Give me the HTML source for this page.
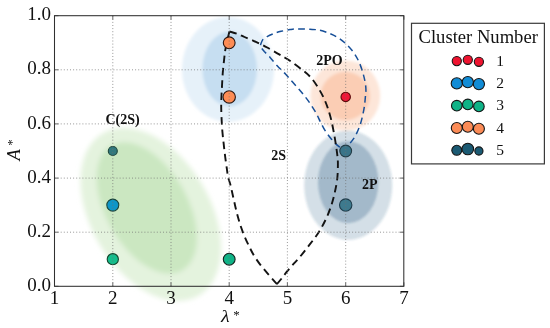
<!DOCTYPE html>
<html><head><meta charset="utf-8"><title>Cluster Number</title>
<style>html,body{margin:0;padding:0;background:#fff}svg{display:block}text{font-family:"Liberation Serif","DejaVu Serif",serif;fill:#111}</style>
</head><body>
<svg width="550" height="328" viewBox="0 0 550 328">
<defs><filter id="soft" x="-20%" y="-20%" width="140%" height="140%"><feGaussianBlur stdDeviation="1.7"/></filter><filter id="soft1" x="-20%" y="-20%" width="140%" height="140%"><feGaussianBlur stdDeviation="1.2"/></filter><filter id="soft3" x="-20%" y="-20%" width="140%" height="140%"><feGaussianBlur stdDeviation="2.7"/></filter></defs>
<rect width="550" height="328" fill="#fff"/>
<g filter="url(#soft3)">
<ellipse cx="150.8" cy="214.4" rx="94.3" ry="59.4" transform="rotate(59.2 150.8 214.4)" fill="#e4f3de"/>
<ellipse cx="146.8" cy="207.9" rx="71.8" ry="40.9" transform="rotate(60.6 146.8 207.9)" fill="#cbe7c1"/>
</g>
<g filter="url(#soft)">
<ellipse cx="228.0" cy="69.4" rx="46.0" ry="52.3" fill="#e6f1f9"/>
<ellipse cx="229.7" cy="69.0" rx="27.3" ry="37.4" fill="#c6def1"/>
<ellipse cx="345.3" cy="95.7" rx="34.9" ry="35.3" fill="#fde6d9"/>
<ellipse cx="345.3" cy="96.0" rx="24.7" ry="24.2" fill="#fbcdb4"/>
</g>
<g filter="url(#soft1)">
<ellipse cx="348.2" cy="185.3" rx="44.0" ry="54.5" fill="#2f6088" fill-opacity="0.20"/>
<ellipse cx="348.2" cy="182.2" rx="30.2" ry="41.0" fill="#2f6088" fill-opacity="0.30"/>
</g>
<g stroke="#3a3a3a" stroke-width="0.75" fill="none">
<line x1="54.5" y1="286.3" x2="54.5" y2="282.3"/>
<line x1="54.5" y1="15.7" x2="54.5" y2="19.7"/>
<line x1="112.8" y1="286.3" x2="112.8" y2="282.3"/>
<line x1="112.8" y1="15.7" x2="112.8" y2="19.7"/>
<line x1="171.0" y1="286.3" x2="171.0" y2="282.3"/>
<line x1="171.0" y1="15.7" x2="171.0" y2="19.7"/>
<line x1="229.2" y1="286.3" x2="229.2" y2="282.3"/>
<line x1="229.2" y1="15.7" x2="229.2" y2="19.7"/>
<line x1="287.4" y1="286.3" x2="287.4" y2="282.3"/>
<line x1="287.4" y1="15.7" x2="287.4" y2="19.7"/>
<line x1="345.7" y1="286.3" x2="345.7" y2="282.3"/>
<line x1="345.7" y1="15.7" x2="345.7" y2="19.7"/>
<line x1="403.9" y1="286.3" x2="403.9" y2="282.3"/>
<line x1="403.9" y1="15.7" x2="403.9" y2="19.7"/>
<line x1="54.5" y1="286.3" x2="58.5" y2="286.3"/>
<line x1="403.9" y1="286.3" x2="399.9" y2="286.3"/>
<line x1="54.5" y1="232.2" x2="58.5" y2="232.2"/>
<line x1="403.9" y1="232.2" x2="399.9" y2="232.2"/>
<line x1="54.5" y1="178.1" x2="58.5" y2="178.1"/>
<line x1="403.9" y1="178.1" x2="399.9" y2="178.1"/>
<line x1="54.5" y1="123.9" x2="58.5" y2="123.9"/>
<line x1="403.9" y1="123.9" x2="399.9" y2="123.9"/>
<line x1="54.5" y1="69.8" x2="58.5" y2="69.8"/>
<line x1="403.9" y1="69.8" x2="399.9" y2="69.8"/>
<line x1="54.5" y1="15.7" x2="58.5" y2="15.7"/>
<line x1="403.9" y1="15.7" x2="399.9" y2="15.7"/>
</g>
<path d="M260.4,45.1 C260.8,44.2 261.7,41.0 262.8,39.6 C263.9,38.2 265.3,37.6 267.1,36.6 C268.9,35.6 271.5,34.4 273.8,33.5 C276.1,32.6 278.4,31.9 281.1,31.3 C283.8,30.7 287.3,30.0 290.0,29.6 C292.7,29.2 294.2,28.9 297.5,28.9 C300.8,28.8 306.3,29.1 310.0,29.3 C313.7,29.5 316.6,29.5 319.8,30.2 C323.1,30.9 326.5,32.2 329.5,33.4 C332.5,34.6 335.1,35.8 338.0,37.6 C340.9,39.4 344.0,41.9 346.6,44.4 C349.2,46.9 351.9,50.0 353.9,52.9 C355.9,55.8 357.4,58.5 358.8,61.5 C360.2,64.5 361.4,68.0 362.4,71.2 C363.4,74.5 364.3,78.0 364.9,81.0 C365.5,84.0 365.8,86.5 365.9,89.0 C366.0,91.5 365.8,92.8 365.5,95.7 C365.2,98.6 364.9,102.8 364.4,106.3 C363.9,109.8 363.1,113.6 362.3,117.0 C361.5,120.4 360.7,123.4 359.5,126.6 C358.3,129.8 356.8,133.3 355.2,136.2 C353.6,139.0 351.5,141.3 349.9,143.7 C348.3,146.0 347.6,150.0 345.6,150.3 C343.6,150.7 340.4,147.6 338.1,145.8 C335.8,144.0 333.8,141.9 331.7,139.4 C329.6,136.9 327.2,133.8 325.3,130.9 C323.4,128.0 322.0,124.9 320.5,122.0 C319.0,119.1 317.9,116.4 316.2,113.3 C314.5,110.2 312.3,106.8 310.1,103.5 C307.9,100.2 305.4,97.0 302.8,93.8 C300.2,90.5 297.2,87.2 294.3,84.0 C291.4,80.8 288.6,77.3 285.7,74.3 C282.8,71.2 279.8,68.5 277.2,65.7 C274.6,62.9 272.0,59.6 269.9,57.2 C267.8,54.8 265.8,53.1 264.3,51.5 C262.9,49.9 261.9,48.7 261.2,47.6 C260.5,46.5 260.5,45.5 260.4,45.1" fill="none" stroke="#174f98" stroke-width="1.5" stroke-dasharray="6.6 4.3"/>
<path d="M277.0,284.1 C276.6,283.7 276.3,283.4 274.7,281.6 C273.1,279.8 269.9,276.1 267.5,273.3 C265.1,270.5 262.7,267.8 260.4,264.8 C258.1,261.8 255.8,258.5 253.8,255.3 C251.9,252.1 250.4,249.0 248.7,245.5 C247.0,242.0 245.1,237.9 243.6,234.1 C242.1,230.2 240.7,226.4 239.5,222.4 C238.3,218.4 237.2,214.5 236.2,210.3 C235.2,206.2 234.3,201.8 233.3,197.5 C232.3,193.2 231.3,188.1 230.4,184.7 C229.5,181.2 228.6,179.5 228.0,176.8 C227.4,174.1 227.3,171.8 226.8,168.3 C226.3,164.9 225.6,160.2 225.1,156.1 C224.6,152.0 224.1,148.0 223.7,143.9 C223.2,139.8 222.8,136.2 222.4,131.7 C222.0,127.2 221.7,121.6 221.5,117.1 C221.3,112.6 221.2,108.5 221.2,104.9 C221.2,101.3 221.4,98.9 221.5,95.7 C221.6,92.5 221.8,89.7 222.0,86.0 C222.2,82.3 222.4,77.9 222.7,73.8 C223.0,69.7 223.4,65.7 223.9,61.6 C224.4,57.5 224.5,54.4 225.4,49.4 C226.3,44.4 228.7,34.5 229.4,31.5" fill="none" stroke="#131313" stroke-width="1.9" stroke-dasharray="7.538 4.787"/>
<path d="M229.4,31.5 C230.7,31.9 234.7,32.9 237.2,33.8 C239.7,34.7 241.9,35.9 244.5,37.0 C247.1,38.1 250.2,39.4 253.0,40.6 C255.8,41.9 258.8,43.1 261.6,44.5 C264.5,45.9 267.2,47.6 270.1,49.2 C273.0,50.8 276.2,52.7 278.7,54.1 C281.2,55.5 282.8,56.4 285.0,57.7 C287.2,59.0 289.0,60.1 291.8,62.1 C294.6,64.0 298.6,67.0 301.6,69.4 C304.7,71.8 307.5,73.9 310.1,76.7 C312.7,79.5 315.2,83.0 317.4,86.5 C319.6,90.0 321.8,93.8 323.5,97.4 C325.2,101.1 326.6,104.5 327.9,108.4 C329.2,112.3 330.4,116.4 331.5,121.0 C332.6,125.6 333.7,131.9 334.5,136.2 C335.3,140.5 335.7,143.8 336.2,146.9 C336.7,150.0 337.0,152.2 337.3,155.0 C337.6,157.8 337.9,159.6 337.9,163.5 C337.9,167.4 337.8,173.6 337.3,178.3 C336.8,183.1 335.9,187.4 334.9,192.0 C333.9,196.6 332.7,201.1 331.2,205.7 C329.7,210.3 327.9,214.9 325.7,219.5 C323.5,224.1 320.9,228.9 318.1,233.2 C315.3,237.5 312.0,241.5 309.0,245.4 C306.0,249.3 302.5,253.8 300.0,256.8 C297.5,259.8 296.1,261.0 294.0,263.4 C291.9,265.8 289.4,268.6 287.3,271.2 C285.2,273.8 282.9,276.9 281.2,279.0 C279.5,281.1 277.7,283.2 277.0,284.1" fill="none" stroke="#131313" stroke-width="1.9" stroke-dasharray="7.466 4.742"/>
<g stroke-width="1.1">
<circle cx="112.8" cy="151.0" r="4.5" fill="#32787d" stroke="#1e463c"/>
<circle cx="112.8" cy="205.1" r="6.0" fill="#0e96c8" stroke="#19463c"/>
<circle cx="112.8" cy="259.2" r="5.6" fill="#14be8c" stroke="#14462d"/>
<circle cx="229.2" cy="259.2" r="5.9" fill="#0fb487" stroke="#14231e"/>
<circle cx="229.2" cy="42.8" r="5.9" fill="#fd8c55" stroke="#28140f"/>
<circle cx="229.2" cy="96.9" r="6.2" fill="#fd8c55" stroke="#28140f"/>
<circle cx="345.7" cy="96.9" r="4.7" fill="#f01637" stroke="#5a0a0a"/>
<circle cx="345.7" cy="151.0" r="5.9" fill="#3a7488" stroke="#233c46"/>
<circle cx="345.7" cy="205.1" r="6.2" fill="#3e7a8e" stroke="#1e3c4b"/>
</g>
<g stroke="#707070" stroke-width="0.8" stroke-dasharray="1 2.1" stroke-opacity="0.9" fill="none">
<line x1="112.8" y1="15.7" x2="112.8" y2="286.3"/>
<line x1="171.0" y1="15.7" x2="171.0" y2="286.3"/>
<line x1="229.2" y1="15.7" x2="229.2" y2="286.3"/>
<line x1="287.4" y1="15.7" x2="287.4" y2="286.3"/>
<line x1="345.7" y1="15.7" x2="345.7" y2="286.3"/>
<line x1="54.5" y1="232.2" x2="403.9" y2="232.2"/>
<line x1="54.5" y1="178.1" x2="403.9" y2="178.1"/>
<line x1="54.5" y1="123.9" x2="403.9" y2="123.9"/>
<line x1="54.5" y1="69.8" x2="403.9" y2="69.8"/>
</g>
<rect x="54.5" y="15.7" width="349.3" height="270.6" fill="none" stroke="#303030" stroke-width="1.05"/>
<g font-size="19" text-anchor="middle">
<text x="54.5" y="303.7">1</text>
<text x="112.8" y="303.7">2</text>
<text x="171.0" y="303.7">3</text>
<text x="229.2" y="303.7">4</text>
<text x="287.4" y="303.7">5</text>
<text x="345.7" y="303.7">6</text>
<text x="403.9" y="303.7">7</text>
</g>
<g font-size="19" text-anchor="end">
<text x="51.0" y="290.9">0.0</text>
<text x="51.0" y="236.8">0.2</text>
<text x="51.0" y="182.7">0.4</text>
<text x="51.0" y="128.5">0.6</text>
<text x="51.0" y="74.4">0.8</text>
<text x="51.0" y="20.3">1.0</text>
</g>
<text transform="translate(221,322.3) scale(1,0.84)" font-size="20" font-style="italic">λ</text>
<text x="233.2" y="319" font-size="13">*</text>
<g transform="translate(20.3,160.5) rotate(-90)"><text x="0" y="0" font-size="18.5" font-style="italic">A</text><text x="14.7" y="-4.2" font-size="13">*</text></g>
<g font-size="14" font-weight="bold">
<text x="105.5" y="123.8">C(2S)</text>
<text x="316.2" y="64.6">2PO</text>
<text x="271.3" y="159.6">2S</text>
<text x="362" y="189">2P</text>
</g>
<rect x="411.5" y="23.3" width="132.9" height="140.6" fill="#fff" stroke="#3a3a3a" stroke-width="1.2"/>
<text x="478.2" y="43.3" font-size="18.6" text-anchor="middle">Cluster Number</text>
<g stroke="#141414" stroke-width="1.1">
<circle cx="456.8" cy="61.1" r="4.6" fill="#ee1430"/>
<circle cx="467.8" cy="59.8" r="4.6" fill="#ee1430"/>
<circle cx="478.9" cy="61.8" r="4.6" fill="#ee1430"/>
<circle cx="456.8" cy="83.4" r="5.6" fill="#118cd6"/>
<circle cx="467.8" cy="82.1" r="5.6" fill="#118cd6"/>
<circle cx="478.9" cy="84.1" r="5.6" fill="#118cd6"/>
<circle cx="456.8" cy="105.7" r="5.3" fill="#0fb387"/>
<circle cx="467.8" cy="104.4" r="5.3" fill="#0fb387"/>
<circle cx="478.9" cy="106.4" r="5.3" fill="#0fb387"/>
<circle cx="456.8" cy="128.0" r="5.5" fill="#fb8b56"/>
<circle cx="467.8" cy="126.7" r="5.5" fill="#fb8b56"/>
<circle cx="478.9" cy="128.7" r="5.5" fill="#fb8b56"/>
<circle cx="456.8" cy="150.3" r="5.0" fill="#1b5a73"/>
<circle cx="467.8" cy="149.0" r="5.8" fill="#1b5a73"/>
<circle cx="478.9" cy="151.0" r="4.1" fill="#1b5a73"/>
</g>
<g font-size="15.5" text-anchor="middle">
<text x="500" y="65.7">1</text>
<text x="500" y="88.0">2</text>
<text x="500" y="110.3">3</text>
<text x="500" y="132.6">4</text>
<text x="500" y="154.9">5</text>
</g>
</svg>
</body></html>
